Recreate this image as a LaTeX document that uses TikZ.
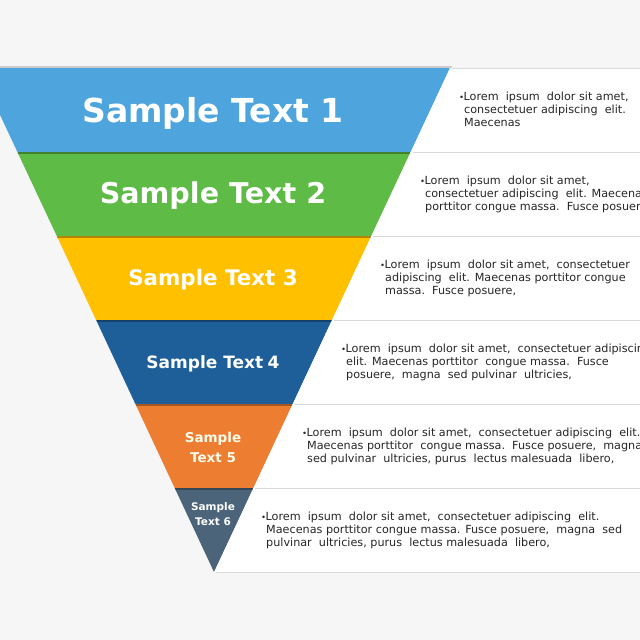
\documentclass[tikz,border=0pt]{standalone}
\usepackage{fontspec}
\setmainfont{DejaVu Sans}
\definecolor{bgc}{HTML}{F6F6F6}
\definecolor{cA}{HTML}{4EA5DE}
\definecolor{cB}{HTML}{5DBB46}
\definecolor{cC}{HTML}{FFC000}
\definecolor{cD}{HTML}{1F5F99}
\definecolor{cE}{HTML}{ED7D31}
\definecolor{cF}{HTML}{4B6479}
\definecolor{linec}{HTML}{D9D9D9}
\definecolor{txt}{HTML}{262626}
\newcommand{\bul}{{\fontsize{8.5}{8.5}\selectfont•}\kern-0.6pt}
\begin{document}
\begin{tikzpicture}[x=1pt,y=-1pt,
  body/.style={anchor=base west,inner sep=0pt,text=txt,font=\fontsize{11.2}{13}\selectfont},
  title/.style={anchor=base,inner sep=0pt,text=white,font=\bfseries\fontsize{#1}{#1}\selectfont},
  sep/.style={draw=linec,line width=0.9pt},
  bandshadow/.style={draw=black,opacity=0.3,line width=1.6pt}]
\useasboundingbox (0,0) rectangle (640,640);
\clip (0,0) rectangle (640,640);
\fill[bgc] (0,0) rectangle (640,640);
% top shadow
\fill[black!20] (0,65.5) rectangle (452,68);
% row boxes
\foreach \ya/\yb/\ra/\rb in {68/152/449.9/410.6,152/236/410.6/371.2,236/320/371.2/331.9,320/404/331.9/292.6,404/488/292.6/253.3,488/572/253.3/214}{
  \fill[white] (\ra,\ya) -- (640,\ya) -- (640,\yb) -- (\rb,\yb) -- cycle;
  \draw[sep] (\ra+2,\ya) -- (640,\ya);
}
\draw[sep] (216,572) -- (640,572);
% funnel bands
\fill[cA] (-21.9,68) -- (449.9,68) -- (410.6,152) -- (17.4,152) -- cycle;
\fill[cB] (17.4,152) -- (410.6,152) -- (371.2,236) -- (56.8,236) -- cycle;
\fill[cC] (56.8,236) -- (371.2,236) -- (331.9,320) -- (96.1,320) -- cycle;
\fill[cD] (96.1,320) -- (331.9,320) -- (292.6,404) -- (135.4,404) -- cycle;
\fill[cE] (135.4,404) -- (292.6,404) -- (253.3,488) -- (174.7,488) -- cycle;
\fill[cF] (174.7,488) -- (253.3,488) -- (214,572) -- cycle;
% shadows at band bottoms
\foreach \y/\l/\r in {152.8/17.8/410.2,236.8/57.2/370.8,320.8/96.5/331.5,404.8/135.8/292.2,488.8/175.1/252.9}{
  \draw[bandshadow] (\l,\y) -- (\r,\y);
}
\draw[white,line width=0.8pt] (450.6,68) -- (214.5,572.5);
% titles
\node[title=33] (s1) at (213,122) {Sample Text 1};
\node[title=28.6] (s2) at (213,203) {Sample Text 2};
\node[title=21.4] (s3) at (213,285) {Sample Text 3};
\node[title=17] (s4) at (213,368) {Sample Text\kern-1.5pt\ 4};
\node[title=13.5,text=white!92!yellow] (s5a) at (213,442) {Sample};
\node[title=13.5,text=white!92!yellow] (s5b) at (213,462) {Text 5};
\node[title=10.5] (s6a) at (213,510) {Sample};
\node[title=10.5] (s6b) at (213,525) {Text 6};
% descriptions
\node[body] (d1a) at (459,100) {\bul Lorem\ \ ipsum\ \ dolor sit amet,};
\node[body] (d1b) at (464,113.3) {consectetuer adipiscing\ \ elit.};
\node[body] (d1c) at (464,126.6) {Maecenas};
\node[body] (d2a) at (420,184) {\bul Lorem\ \ ipsum\ \ dolor sit amet,};
\node[body] (d2b) at (425,197.3) {consectetuer adipiscing\ \ elit. Maecenas};
\node[body] (d2c) at (425,210.6) {porttitor congue massa.\ \ Fusce posuere,};
\node[body] (d3a) at (380,268) {\bul Lorem\ \ ipsum\ \ dolor sit amet,\ \ consectetuer};
\node[body] (d3b) at (385,281.3) {adipiscing\ \ elit. Maecenas porttitor congue};
\node[body] (d3c) at (385,294.6) {massa.\ \ Fusce posuere,};
\node[body] (d4a) at (341,352) {\bul Lorem\ \ ipsum\ \ dolor sit amet,\ \ consectetuer adipiscing};
\node[body] (d4b) at (346,365.3) {elit. Maecenas porttitor\ \ congue massa.\ \ Fusce};
\node[body] (d4c) at (346,378.6) {posuere,\ \ magna\ \ sed pulvinar\ \ ultricies,};
\node[body] (d5a) at (302,436) {\bul Lorem\ \ ipsum\ \ dolor sit amet,\ \ consectetuer adipiscing\ \ elit.};
\node[body] (d5b) at (307,449.3) {Maecenas porttitor\ \ congue massa.\ \ Fusce posuere,\ \ magna};
\node[body] (d5c) at (307,462.6) {sed pulvinar\ \ ultricies, purus\ \ lectus malesuada\ \ libero,};
\node[body] (d6a) at (261,520) {\bul Lorem\ \ ipsum\ \ dolor sit amet,\ \ consectetuer adipiscing\ \ elit.};
\node[body] (d6b) at (266,533.3) {Maecenas porttitor congue massa. Fusce posuere,\ \ magna\ \ sed};
\node[body] (d6c) at (266,546.6) {pulvinar\ \ ultricies, purus\ \ lectus malesuada\ \ libero,};
\end{tikzpicture}
\end{document}
